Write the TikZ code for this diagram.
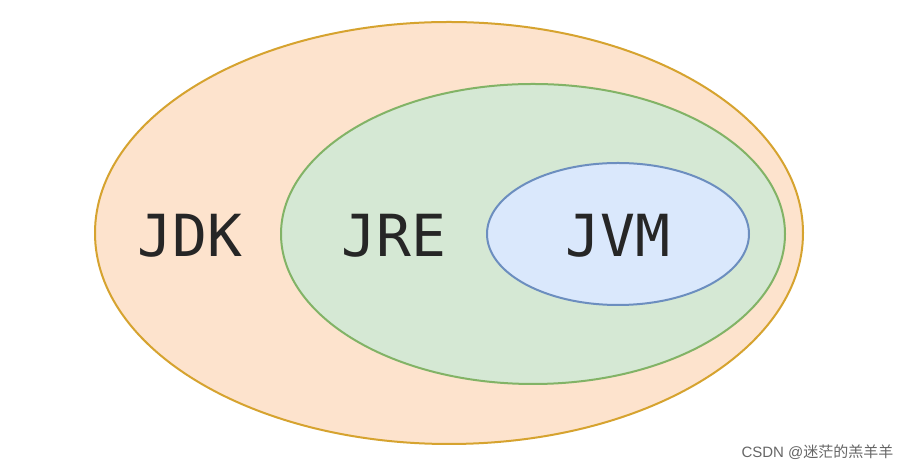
\documentclass[tikz,border=0pt]{standalone}
\usepackage{fontspec}
\setmonofont{DejaVu Sans Mono}
\setsansfont{Liberation Sans}
\newfontfamily\cjk{Noto Sans CJK SC}
\definecolor{jdkfill}{HTML}{FDE3CD}
\definecolor{jdkline}{HTML}{D6A32F}
\definecolor{jrefill}{HTML}{D5E8D4}
\definecolor{jreline}{HTML}{82B366}
\definecolor{jvmfill}{HTML}{DAE8FC}
\definecolor{jvmline}{HTML}{6C8EBF}
\begin{document}
\begin{tikzpicture}[x=1pt,y=1pt,
  lbl/.style={font=\ttfamily\fontsize{58}{58}\selectfont, text=black!85},
  ring/.style={line width=2pt}]
\useasboundingbox[fill=white] (0,0) rectangle (902,470);
\path[ring, fill=jdkfill, draw=jdkline] (449,237) ellipse [x radius=354, y radius=211];
\path[ring, fill=jrefill, draw=jreline] (533,236) ellipse [x radius=252, y radius=150];
\path[ring, fill=jvmfill, draw=jvmline] (618,236) ellipse [x radius=131, y radius=71];
\node[lbl] (jdk) at (190,234) {JDK};
\node[lbl] (jre) at (394,234) {JRE};
\node[lbl] (jvm) at (618,234) {JVM};
\node[anchor=east, text=gray!80!black, font=\sffamily\fontsize{15}{15}\selectfont] (wm) at (897,18) {CSDN @{\cjk 迷茫的羔羊羊}};
\end{tikzpicture}
\end{document}
